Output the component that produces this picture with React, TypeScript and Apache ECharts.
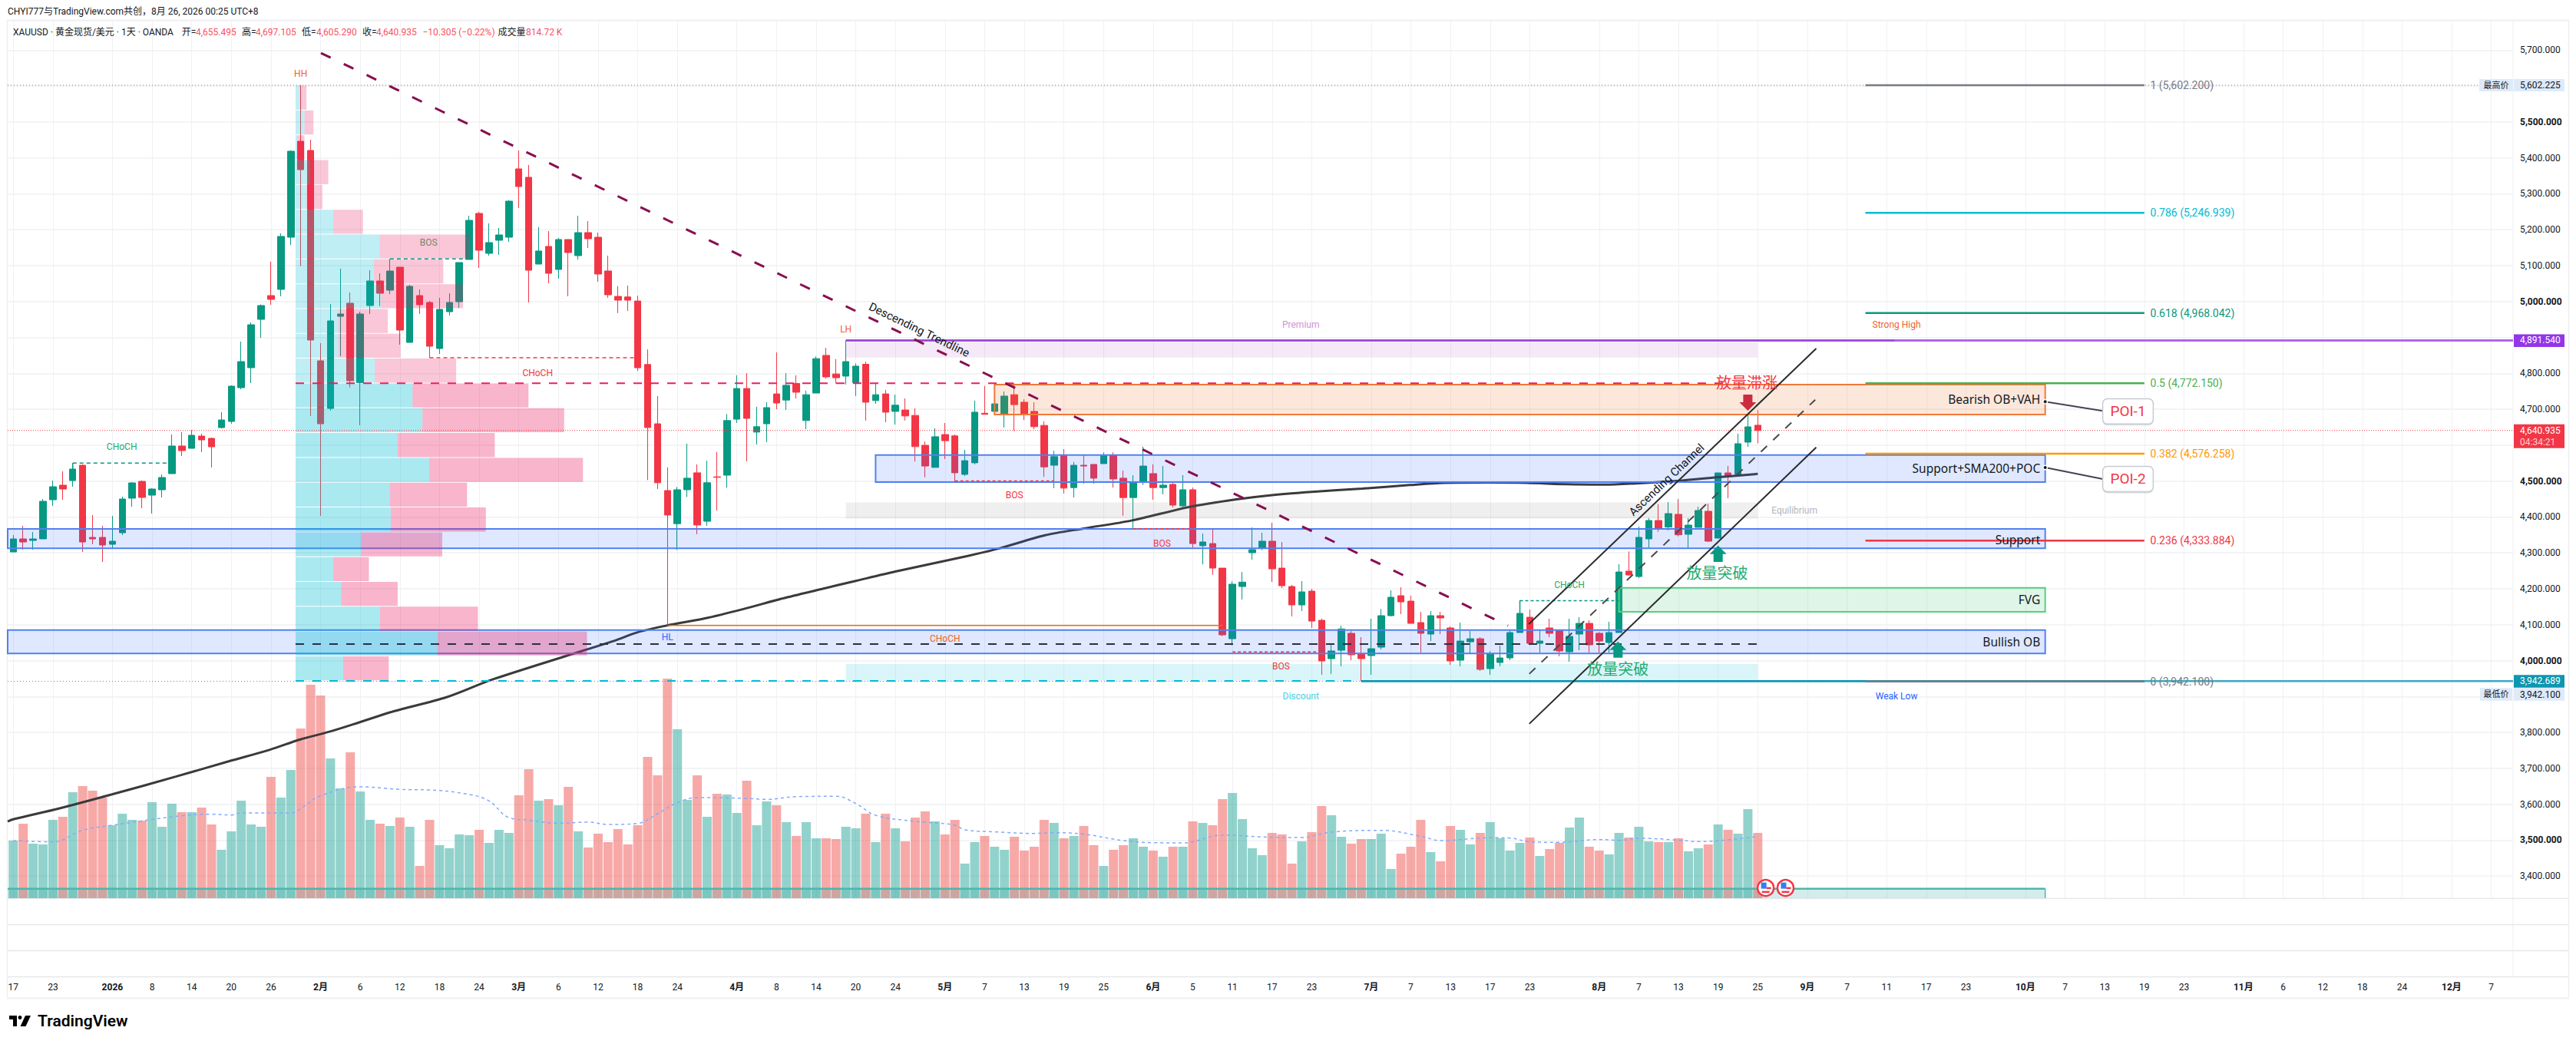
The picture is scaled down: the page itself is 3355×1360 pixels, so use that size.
import React, { useEffect, useRef } from "react";
import * as echarts from "echarts";

// ---------- DATA ----------
// candle rows: open, close, low, high
const candleRows: number[][] = [
[4302.5,4338.9,4302.5,4349.6],[4338.9,4330.3,4308.9,4375.2],[4334.6,4338.9,4308.9,4358.1],[4338.9,4443.6,4338.9,4450],
[4447.9,4484.2,4430.8,4501.3],[4488.5,4477.8,4447.9,4527],[4501.3,4533.4,4484.2,4549.8],[4544,4330.3,4302.5,4546.2],
[4343.1,4338.9,4323.9,4405.1],[4343.1,4321.8,4274.7,4375.2],[4323.9,4332.4,4311.1,4403],[4356,4450,4349.6,4456.4],
[4452.2,4494.9,4428.6,4497],[4499.2,4454.3,4424.4,4501.3],[4460.7,4477.8,4409.4,4480],[4475.7,4509.9,4454.3,4518.4],
[4520.6,4597.5,4520.6,4629.6],[4597.5,4584.7,4569.7,4636],[4591.1,4627.5,4591.1,4642.4],[4625.3,4614.6,4580.4,4631.7],
[4618.9,4595.4,4537.7,4621],[4648.8,4670.2,4646.7,4691.6],[4665.9,4764.3,4659.5,4766.4],[4760,4832.7,4755.7,4888.3],
[4815.6,4935.3,4772.9,4941.7],[4950.3,4988.8,4899,4991.6],[5016.5,5005.9,4990.9,5110.6],[5033.7,5181.2,5014.4,5189.7],
[5179,5418.5,5157.6,5420.6],[5446.2,5367.1,5098.5,5602.3],[5420.6,4892.6,4680.9,5450.5],[4834.9,4659.5,4403,4884],
[4702.3,4946,4696,4993],[4958.8,4965.2,4847.7,5091.4],[4995.2,4779.3,4760.7,5025.1],[4774.3,4965.2,4655.3,4971.6],
[4988.8,5057.2,4965.2,5087.1],[5057.2,5023,4986.6,5078.5],[5031.5,5084.9,5020.8,5118.4],[5095.6,4920.3,4879.7,5095.6],
[4886.1,5042.2,4886.1,5046.5],[5016.5,4990.9,4965.2,5033.7],[4997.3,4875.4,4843.4,5001.6],[4869,4978.1,4854.1,5010.1],
[4971.6,4997.3,4961,5023],[4999.4,5108.5,4982.3,5108.5],[5117,5226,5117,5238.9],[5245.3,5142.7,5093.5,5249.6],
[5134.1,5164.1,5127.7,5217.5],[5170.5,5185.4,5129.8,5204.7],[5179,5279.5,5166.2,5281.6],[5369.3,5320.1,5260.3,5420.6],
[5345.8,5087.1,4997.3,5380],[5104.2,5140.6,5104.2,5206.8],[5153.4,5078.5,5050.7,5196.1],[5089.2,5172.6,5063.6,5176.9],
[5172.6,5136.3,5014.4,5172.6],[5127.7,5191.8,5117,5238.9],[5191.8,5174.7,5149.1,5223.9],[5179,5076.4,5055,5191.8],
[5085,5018.7,5010.1,5127.7],[5014.2,5003.7,4967.7,5042.7],[5012.7,5003.7,4973.7,5044.2],[5001.4,4815.5,4806.5,5016.4],
[4824.5,4649,4502.8,4866.5],[4659.5,4495.3,4478,4736.7],[4473.6,4405.3,4098,4538],[4381.4,4475.8,4307.9,4483.3],
[4475.8,4508,4455.6,4604],[4523,4377.6,4352.1,4546.3],[4388,4495.3,4375.3,4556.8],[4511.8,4510.3,4418.1,4580.8],
[4516.3,4668.5,4481.8,4686.5],[4672.3,4757.7,4661.8,4794.5],[4757.7,4674.5,4554.5,4800.5],[4636.3,4651.3,4601.8,4706.8],
[4659.5,4704.5,4608.5,4719.5],[4742.7,4717.3,4700,4858.2],[4725.5,4766.7,4697.8,4800.5],[4772,4747.3,4730,4794.5],
[4668.5,4740.5,4644.5,4751.8],[4745,4841,4745,4847],[4850,4790,4785.5,4871],[4798.2,4787.7,4772,4839.5],
[4792.2,4832.7,4769,4891.5],[4774.2,4820,4736.7,4827.5],[4825.2,4719.5,4668.5,4832.7],[4724,4740.5,4715,4770.5],
[4742.7,4691.8,4664,4754],[4694,4711.3,4657.3,4740.5],[4697.8,4681.3,4668.5,4730],[4682.8,4595.8,4554.5,4702.3],
[4599.5,4541.8,4510.3,4610],[4538,4623.5,4538,4646.8],[4629.5,4612.3,4561.3,4661.8],[4625.8,4523,4499,4629.5],
[4518.5,4556.8,4514,4586.8],[4550.8,4691.8,4546.3,4724],[4688.8,4685.8,4685.8,4764.5],[4694,4715,4685.8,4724],
[4686.5,4736.7,4649,4749.5],[4740.5,4712.8,4639.3,4772.7],[4719.5,4687.3,4670,4727.7],[4694,4651.3,4644.5,4719.5],
[4655,4539.5,4511.8,4666.3],[4544,4568,4480.3,4584.5],[4570.3,4480.3,4465.3,4589],[4481.8,4544,4454,4553],
[4544,4541.8,4493,4571.8],[4546.3,4508,4493,4546.3],[4548.5,4570.3,4548.5,4580],[4571.8,4505.8,4481.8,4580],
[4508,4454,4403.1,4529],[4454,4497.6,4367.1,4516.3],[4497.6,4541.8,4489.3,4595.8],[4520.8,4481.8,4448.1,4546.3],
[4481.8,4488.6,4463,4541.8],[4490.8,4433,4426.3,4494.6],[4430.8,4475.8,4426.3,4516.3],[4475.8,4325.9,4313.9,4481.8],
[4319.9,4330.4,4268.1,4353.6],[4325.9,4257.6,4238.9,4364.8],[4257.6,4071.7,4067.9,4257.6],[4061,4212.8,4042.5,4220.6],
[4206.3,4218.5,4170,4246.9],[4300.4,4309,4281.2,4371],[4313.2,4332.5,4307.5,4356],[4332.5,4255.5,4219,4383.8],
[4257.6,4208.5,4202,4330.3],[4206.3,4155,4123,4210.6],[4155,4191.4,4138,4221.3],[4193.5,4110.1,4090.9,4200],
[4112.3,3999,3960.5,4116.5],[4005.4,4026.8,3962.6,4043.9],[4028.9,4088.1,3984,4097.3],[4076,4016.1,4001.1,4083],
[4018.9,4005.4,3942.1,4065.2],[4014,4033.2,3960.5,4116.5],[4037.4,4125.1,4031,4143.6],[4125.1,4176.4,4123,4195.6],
[4180.7,4163.6,4129.4,4204.2],[4165.7,4103.7,4103.7,4180.7],[4105.9,4076,4022.5,4135.8],[4073.8,4125.1,4054.5,4138],
[4125.1,4118.7,4073.8,4135.8],[4090.9,3999,3988.3,4095.2],[4001.1,4054.5,3984,4105.8],[4052.4,4060.9,4018.2,4082.3],
[4060.9,3975.5,3971.2,4065.2],[3977.6,4018.9,3960.5,4026.1],[3994.7,4007.5,3984,4041.7],[4007.5,4078.1,4001.1,4086.6],
[4078.1,4131.5,4078.1,4167.9],[4120.8,4048.1,4043.9,4142.2],[4048.1,4054.5,4022.5,4084.5],[4090.9,4076,4065.2,4116.5],
[4083,4026.8,4011.8,4086.6],[4024.6,4067.4,3996.8,4116.5],[4073.8,4103.7,4028.9,4120.8],[4103.7,4043.9,4022.5,4112.3],
[4076,4054.5,4022.5,4079.5],[4050.3,4078.1,4022.5,4108],[4078.1,4246.9,4078.1,4268.3],[4249.1,4238.4,4236.3,4304],
[4234.1,4343.2,4229.9,4373.1],[4338.9,4390.2,4314.7,4396.6],[4390.2,4368.8,4358.8,4435.8],[4371.7,4409.4,4362.4,4441.5],
[4407.3,4350.3,4346,4450],[4351.7,4377.4,4311.1,4396.6],[4371,4418,4371,4428.7],[4415.8,4332.5,4330.3,4437.2],
[4341,4522.7,4341,4522.7],[4522.7,4514.2,4452.2,4542],[4518.5,4604,4512,4631.8],[4608.3,4651,4595.4,4685.2],
[4655.5,4640.9,4605.3,4697.1],
];

// volume in thousands
const volumes: number[] = [
718.9,929.7,680.5,671,977.7,1016,1322.7,1399.4,1341.9,1255.6,910.6,1054.4,977.7,968.1,1198.1,891.4,1179,1073.5,1073.5,1131,
920.2,603.9,833.9,1217.3,920.2,891.4,1514.4,1255.6,1600.7,2118.3,2664.6,2530.4,1744.5,1370.7,1821.2,1332.3,977.7,929.7,901,1006.4,
891.4,402.6,977.7,661.4,623,795.6,786,853.1,690.1,853.1,814.7,1284.4,1610.3,1217.3,1236.5,1159.8,1389.8,833.9,632.6,805.1,
699.7,862.7,671,910.6,1763.6,1533.6,2741.3,2108.7,1226.9,1533.6,1016,1303.6,1294,1063.9,1466.5,910.6,1207.7,1159.8,948.9,776.4,
948.9,747.6,747.6,738,891.4,872.2,1054.4,699.7,1054.4,872.2,709.3,1006.4,1083.1,958.5,795.6,977.7,431.3,699.7,776.4,642.2,
603.9,766.8,594.3,642.2,977.7,939.3,747.6,776.4,901,661.4,402.6,603.9,661.4,747.6,642.2,594.3,517.6,642.2,642.2,958.5,
939.3,910.6,1236.5,1313.1,987.3,623,536.8,814.7,795.6,431.3,709.3,824.3,1150.2,1035.2,766.8,680.5,738,738,805.1,364.2,
555.9,642.2,977.7,575.1,460.1,901,853.1,671,814.7,948.9,747.6,594.3,690.1,757.2,527.2,613.4,690.1,881.8,1006.4,642.2,
594.3,546.3,814.7,757.2,891.4,709.3,699.7,699.7,747.6,584.7,623,671,920.2,853.1,805.1,1111.9,814.72,
];

// volume moving average read at sampled bars: [bar, value]
const volumeMa: number[][] = [
[0,719],[4,703],[7,847],[10,911],[13,965],[17,1029],[20,1048],[22,1038],[23,1064],[28,1064],[29,1118],[31,1278],[35,1390],[39,1358],[42,1351],[46,1294],
[48,1214],[50,1006],[52,974],[55,936],[58,949],[60,920],[63,933],[65,1054],[67,1192],[69,1256],[74,1246],[76,1233],[79,1268],[83,1272],[85,1182],[87,1035],
[91,958],[92,949],[95,911],[96,853],[99,828],[103,808],[105,818],[108,799],[112,719],[115,693],[118,690],[122,786],[127,760],[130,757],[133,824],[138,847],
[142,773],[144,719],[149,754],[151,751],[153,703],[156,697],[160,732],[162,722],[164,748],[168,725],[170,706],[173,728],[176,770],
];

// SMA200 read at sampled bars: [bar, price]
const sma200: number[][] = [
[-0.565,3552],[0,3558],[4.6,3588],[9.9,3627],[16.4,3677],[21.8,3720],[25.9,3752],[28.9,3780],[31.9,3802],[34.8,3827],[38.4,3859],[43.7,3898],[48.4,3948],
[60.6,4055],[63,4079],[66,4098],[69.7,4117],[73.6,4143],[77.6,4173],[81.5,4199],[85,4222],[89,4248],[96.2,4291],[99.4,4312],[104.1,4349],[108,4368],[112.8,4390],[118.7,4428],
[123.4,4449],[127,4461],[131,4470],[136.1,4479],[140.9,4489],[144.4,4495],[148.8,4496],[152.7,4495],[156.7,4491],[160.6,4490],[163.4,4493],[168.1,4501],[172.1,4511],[176,4520],
];

// time axis: bar number of each tick and its label
const timeTickBars: number[] = [0,4,10,14,18,22,26,31,35,39,43,47,51,55,59,63,67,73,77,81,85,89,94,98,102,106,110,115,119,123,127,131,137,141,145,149,153,160,164,168,172,176,181,185,189,193,197,203,207,211,215,219,225,229,233,237,241,246,250];
const timeTickLabels: string[] = ["17","23","2026","8","14","20","26","2月","6","12","18","24","3月","6","12","18","24","4月","8","14","20","24","5月","7","13","19","25","6月","5","11","17","23","7月","7","13","17","23","8月","7","13","19","25","9月","7","11","17","23","10月","7","13","19","23","11月","6","12","18","24","12月","7"];

const priceGridValues: number[] = [5700,5600,5500,5400,5300,5200,5100,5000,4900,4800,4700,4600,4500,4400,4300,4200,4100,4000,3900,3800,3700,3600,3500,3400];
const priceLabelValues: number[] = [5700,5500,5400,5300,5200,5100,5000,4800,4700,4500,4400,4300,4200,4100,4000,3800,3700,3600,3500,3400];
const boldPriceValues: number[] = [5500,5000,4500,4000,3500];

// price zones: x from, x to, price top, price bottom
const zoneSupportLow = [-0.565,205,4366.7,4312.6];
const zoneBullishOb = [-0.565,205,4085,4020];
const zoneSupportPoc = [87,205,4572.6,4497];
const zoneBearishOb = [99,205,4768.6,4685.2];
const zoneFvg = [162,205,4202.7,4136];
const zonePremium = [84,176,4887,4844];
const zoneEquilibrium = [84,176,4440.6,4395.6];
const zoneDiscount = [84,176,3990.7,3944];
const zoneEventBand = [-0.565,205,3364.8,3338.5];

// volume profile: row span and up / down width in bars
const profileStartBar = 28.48;
const profileTopPrice = 5602.2;
const profileRowStep = 69.1;
const profileUp = [.5,.9,.2,1.5,1.1,3.8,8.5,7.9,8.6,4.3,4.3,8,11.8,12.8,10.3,13.5,9.5,9.6,6.6,3.8,4.6,8.5,14.3,4.8];
const profileDown = [.6,.9,.7,1.8,1.6,3,9,7,8.3,5,6.3,8.2,11.7,14.3,9.8,15.5,7.8,9.6,8.2,3.6,5.7,9.9,15.1,4.6];

// drawn lines: x1, price1, x2, price2
const lineHigh = [-0.565,5602.2,248.8,5602.2];
const lineLow = [-0.565,3942.1,252.2,3942.1];
const lineLast = [-0.565,4640.9,252.2,4640.9];
const lineTrend = [31.04,5692,150.8,4097];
const lineChannelUp = [152.9,4101.6,181.9,4869];
const lineChannelMid = [152.95,3963,181.8,4726.5];
const lineChannelDown = [152.95,3824,181.9,4594];
const lineVah = [28.48,4772.5,172.6,4772.5];
const lineBullMid = [28.48,4046,175.9,4046];
const lineDiscount = [28.48,3943.5,135,3943.5];
const lineWeakLow = [136,3942.7,252.2,3942.7];
const lineWeakLowFib = [136,3942.7,215,3942.7];
const linePurple = [84,4891.5,252.2,4891.5];
const linePurpleShort = [84,4891.5,189.8,4891.5];
const lineChochG1 = [6,4549.8,16,4549.8];
const lineChochG1Tick = [6,4549.8,6,4533];
const lineBosG = [38,5118.4,46,5118.4];
const lineChochR = [42,4843.4,63,4843.4];
const lineBosR1 = [95,4500.5,105,4500.5];
const lineBosR2 = [113,4367,119,4367];
const lineBosR3 = [123,4024,132,4024];
const lineChochO = [66,4098,122,4098];
const lineChochG2 = [152,4167,162,4167];
const lineChochG2Tick = [152,4167,152,4131];
const linePoi1 = [205,4720.9,210.8,4695.3];
const linePoi2 = [205,4537.7,210.8,4505.6];
const lineBandTop = [-0.565,3364.8,205,3364.8];
const lineBandRight = [205,3364.8,205,3338.5];

// Fibonacci levels
const fibLevels = [1,0.786,0.618,0.5,0.382,0.236,0];
const fibPrices = [5602.2,5246.939,4968.042,4772.15,4576.258,4333.884,3942.1];
const fibLabels = ["1 (5,602.200)","0.786 (5,246.939)","0.618 (4,968.042)","0.5 (4,772.150)","0.382 (4,576.258)","0.236 (4,333.884)","0 (3,942.100)"];
const fibFromBar = 186.86;
const fibToBar = 215;
const fibLabelBar = 215.6;

// annotations: bar, price, text, kind
const annotations: [number,number,string,string][] = [
[29,5635,"HH","orange"],[10.95,4596,"CHoCH","green"],[41.9,5164.7,"BOS","olive"],[52.9,4801,"CHoCH","red"],
[84,4923,"LH","orange"],[66,4066,"HL","blue"],[94,4060,"CHoCH","orange"],[101,4461.6,"BOS","red"],[115.9,4326.5,"BOS","red"],
[127.9,3984.6,"BOS","red"],[157,4211.3,"CHoCH","green"],[129.9,4935,"Premium","lilac"],[129.9,3900.7,"Discount","aqua"],
[179.7,4418,"Equilibrium","gray"],[190,4935,"Strong High","orange"],[190,3900.7,"Weak Low","blue"],
[91.4,4921,"Descending Trendline","descend"],[166.8,4503.5,"Ascending Channel","ascend"],
[174.9,4772,"放量滞涨","cnRed"],[171.9,4243,"放量突破","cnGreen"],[161.9,3976,"放量突破","cnGreen"],
[204.5,4728,"Bearish OB+VAH","zone"],[204.5,4535.6,"Support+SMA200+POC","zone"],[204.5,4337,"Support","zone"],[204.5,4170.7,"FVG","zone"],[204.5,4053,"Bullish OB","zone"],
];

// arrows: bar, tail price, tip price, kind
const arrows: [number,number,number,string][] = [[175,4741,4696,"red"],[172,4275,4320,"green"],[161.9,4008,4053,"green"]];

// callouts: bar from, bar to, price top, price bottom, text, anchor bar, anchor price
const callouts: [number,number,number,number,string,number,number][] = [[210.8,215.9,4729,4659,"POI-1",205,4720.9],[210.8,215.9,4541,4470.6,"POI-2",205,4537.7]];

const eventBars = [176.8,178.8];
const eventPrice = 3367;

// price tags at right: price, text, kind
const priceTags: [number,string,string][] = [[5602.225,"5,602.225","soft"],[4891.54,"4,891.540","purple"],[4640.935,"4,640.935","last"],[3942.689,"3,942.689","teal"]];
const lastCountdown = "04:34:21";
const lowPriceTag = "3,942.100";
const highTagName = "最高价";
const lowTagName = "最低价";

const titleText = "CHYI777与TradingView.com共创，8月 26, 2026 00:25 UTC+8";
const legendPieces: [number,string,boolean][] = [
[17,"XAUUSD · 黄金现货/美元 · 1天 · OANDA",false],[236.7,"开=",false],[255,"4,655.495",true],[315,"高=",false],[333,"4,697.105",true],[393,"低=",false],[412,"4,605.290",true],[472,"收=",false],[490,"4,640.935",true],[550.5,"−10.305 (−0.22%)",true],[648.5,"成交量",false],[685,"814.72 K",true],
];

// ---------- STYLE ----------
const FONT = "Roboto, 'Noto Sans CJK SC', sans-serif";
const UP = "#089981";
const DOWN = "#F23645";
const BLUE_FILL = "rgba(41,98,255,0.15)";
const BLUE_LINE = "#5280EE";

const zoneDraw: [number[],string,string|null,number][] = [
[zonePremium,"rgba(156,39,176,0.10)",null,0],
[zoneEquilibrium,"rgba(120,123,134,0.12)",null,0],
[zoneDiscount,"rgba(0,188,212,0.15)",null,0],
[zoneSupportLow,BLUE_FILL,BLUE_LINE,2],
[zoneBullishOb,BLUE_FILL,BLUE_LINE,2],
[zoneSupportPoc,BLUE_FILL,BLUE_LINE,2],
[zoneBearishOb,"rgba(239,108,30,0.16)","#EF7A3A",2],
[zoneFvg,"rgba(76,200,120,0.18)","#55D07E",2],
[zoneEventBand,"rgba(0,150,136,0.17)",null,0],
];

const lineDraw: [number[],string,number,number[]|null][] = [
[lineHigh,"#787B86",1,[1,3]],
[lineLow,"#787B86",1,[1,3]],
[lineLast,DOWN,1,[1,2]],
[lineVah,"#E91E63",2,[11,11]],
[lineBullMid,"#2A2E45",2,[11,11]],
[lineDiscount,"#00BCD4",2,[11,11]],
[lineWeakLow,"#3AABC1",2.5,null],
[lineWeakLowFib,"#0E97B0",2.5,null],
[linePurple,"#AE66EC",3,null],
[linePurpleShort,"#9C45D8",2,null],
[lineChochG1,"#089981",1.5,[5,4]],
[lineChochG1Tick,"#089981",1.5,null],
[lineBosG,"#089981",1.5,[5,4]],
[lineChochR,DOWN,1.5,[5,4]],
[lineBosR1,DOWN,1.5,[4,3]],
[lineBosR2,DOWN,1.5,[4,3]],
[lineBosR3,DOWN,1.5,[4,3]],
[lineChochO,"#EF6C00",1.5,null],
[lineChochG2,"#089981",1.5,[4,3]],
[lineChochG2Tick,"#089981",1.5,null],
[lineTrend,"#880E4F",3,[14,19]],
[lineChannelUp,"#2B2B2B",2,null],
[lineChannelMid,"#4A4A4A",2,[11,11]],
[lineChannelDown,"#2B2B2B",2,null],
[linePoi1,"#434651",2,null],
[linePoi2,"#434651",2,null],
[lineBandTop,"#4DB6AC",2.5,null],
[lineBandRight,"#4DB6AC",1.5,null],
];

const fibColors = ["#787B86","#00BCD4","#089981","#4CAF50","#FF9800","#F23645","#787B86"];

const labelStyle: Record<string,{fill:string;size:number;align:string;rot?:number;family?:string}> = {
  orange:{fill:"#F0642A",size:12,align:"center"},
  green:{fill:"#22AB6E",size:12,align:"center"},
  olive:{fill:"#6E8A70",size:12,align:"center"},
  red:{fill:"#F23645",size:12,align:"center"},
  blue:{fill:"#2962FF",size:12,align:"center"},
  lilac:{fill:"#CE93D8",size:12,align:"center"},
  aqua:{fill:"#4DD0E1",size:12,align:"center"},
  gray:{fill:"#B2B5BE",size:12,align:"center"},
  descend:{fill:"#131722",size:15,align:"center",rot:-0.45},
  ascend:{fill:"#131722",size:15,align:"center",rot:0.76},
  cnRed:{fill:"#F23645",size:20,align:"center"},
  cnGreen:{fill:"#22AB6E",size:20,align:"center"},
  zone:{fill:"#131722",size:15.5,align:"right",family:"'Noto Sans', Roboto, sans-serif"},
};

const formatPrice = (v:number) => v.toLocaleString("en-US",{minimumFractionDigits:3,maximumFractionDigits:3});
const timeLabelOf = new Map(timeTickBars.map((b,i)=>[String(b),timeTickLabels[i]]));

function zoneItem(params:any, api:any){
  const [z,fill,stroke,lw] = zoneDraw[params.dataIndex];
  const a = api.coord([z[0],z[2]]), b = api.coord([z[1],z[3]]);
  return {type:"rect",shape:{x:a[0],y:a[1],width:b[0]-a[0],height:b[1]-a[1]},style:{fill,stroke:stroke||"none",lineWidth:lw}};
}
function profileItem(params:any, api:any){
  const n = params.dataIndex;
  const top = profileTopPrice-profileRowStep*n, bottom = top-profileRowStep;
  const a = api.coord([profileStartBar,top]);
  const b = api.coord([profileStartBar+profileUp[n],bottom]);
  const c = api.coord([profileStartBar+profileUp[n]+profileDown[n],bottom]);
  const alpha = n<12 ? 0.25 : 0.33;
  return {type:"group",children:[
    {type:"rect",shape:{x:a[0],y:a[1]+0.5,width:b[0]-a[0],height:b[1]-a[1]-1},style:{fill:`rgba(0,188,212,${alpha})`}},
    {type:"rect",shape:{x:b[0],y:a[1]+0.5,width:c[0]-b[0],height:b[1]-a[1]-1},style:{fill:`rgba(233,30,99,${alpha})`}},
  ]};
}
function lineItem(params:any, api:any){
  const [l,color,width,dash] = lineDraw[params.dataIndex];
  const a = api.coord([l[0],l[1]]), b = api.coord([l[2],l[3]]);
  return {type:"line",shape:{x1:a[0],y1:a[1],x2:b[0],y2:b[1]},style:{stroke:color,lineWidth:width,lineDash:dash||undefined,fill:"none"}};
}
function fibItem(params:any, api:any){
  const i = params.dataIndex;
  const a = api.coord([fibFromBar,fibPrices[i]]), b = api.coord([fibToBar,fibPrices[i]]), t = api.coord([fibLabelBar,fibPrices[i]]);
  return {type:"group",children:[
    {type:"line",shape:{x1:a[0],y1:a[1],x2:b[0],y2:b[1]},style:{stroke:fibColors[i],lineWidth:2.5}},
    {type:"text",x:t[0],y:t[1],style:{text:fibLabels[i],fill:fibColors[i],fontSize:14,fontFamily:FONT,align:"left",verticalAlign:"middle"}},
  ]};
}
function textItem(params:any, api:any){
  const [x,p,text,kind] = annotations[params.dataIndex];
  const s = labelStyle[kind];
  const c = api.coord([x,p]);
  return {type:"text",x:c[0],y:c[1],rotation:s.rot||0,style:{text,fill:s.fill,fontSize:s.size,fontFamily:s.family||FONT,align:s.align,verticalAlign:"middle"}};
}
function arrowItem(params:any, api:any){
  const [x,tail,tip,kind] = arrows[params.dataIndex];
  const t = api.coord([x,tail]), h = api.coord([x,tip]);
  const d = h[1]>t[1] ? 1 : -1;
  const neck = h[1]-d*11;
  return {type:"polygon",shape:{points:[[t[0]-6,t[1]],[t[0]+6,t[1]],[t[0]+6,neck],[t[0]+11,neck],[h[0],h[1]],[t[0]-11,neck],[t[0]-6,neck]]},
    style:{fill:kind==="red"?"#CB2D3E":UP}};
}
function calloutItem(params:any, api:any){
  const [x1,x2,top,bottom,text,ax,ap] = callouts[params.dataIndex];
  const a = api.coord([x1,top]), b = api.coord([x2,bottom]), d = api.coord([ax,ap]);
  return {type:"group",children:[
    {type:"circle",shape:{cx:d[0],cy:d[1],r:3.5},style:{fill:"#fff"}},
    {type:"circle",shape:{cx:d[0],cy:d[1],r:2},style:{fill:"#131722"}},
    {type:"rect",shape:{x:a[0],y:a[1]+2,width:b[0]-a[0],height:b[1]-a[1],r:6},style:{fill:"rgba(120,123,134,0.25)"}},
    {type:"rect",shape:{x:a[0],y:a[1],width:b[0]-a[0],height:b[1]-a[1],r:6},style:{fill:"#fff",stroke:"#C9CBD1",lineWidth:1.5}},
    {type:"text",x:(a[0]+b[0])/2,y:(a[1]+b[1])/2,style:{text,fill:DOWN,fontSize:19,fontFamily:FONT,align:"center",verticalAlign:"middle"}},
  ]};
}
function eventItem(params:any, api:any){
  const c = api.coord([eventBars[params.dataIndex],eventPrice]);
  const x=c[0], y=c[1];
  return {type:"group",children:[
    {type:"circle",shape:{cx:x,cy:y,r:10.5},style:{fill:"#fff",stroke:DOWN,lineWidth:2.5}},
    {type:"rect",shape:{x:x-6,y:y-7,width:7,height:8},style:{fill:"#2F80ED"}},
    {type:"rect",shape:{x:x+1,y:y-1,width:6,height:2.5},style:{fill:DOWN}},
    {type:"rect",shape:{x:x-5,y:y+4,width:10,height:2.5},style:{fill:DOWN}},
  ]};
}
function tagItem(params:any, api:any){
  const [p,text,kind] = priceTags[params.dataIndex];
  const y = api.coord([0,p])[1];
  const X=3274, W=66;
  const txt = (t:string,fill:string,yy:number,x=3282)=>({type:"text",x,y:yy,style:{text:t,fill,fontSize:12,fontFamily:FONT,align:"left",verticalAlign:"middle"}});
  if(kind==="soft"){
    return {type:"group",children:[
      {type:"rect",shape:{x:3229,y:y-8,width:44,height:16},style:{fill:"#DEEAFA"}},
      {type:"rect",shape:{x:X,y:y-8,width:W,height:16},style:{fill:"#DEEAFA"}},
      {type:"text",x:3251,y,style:{text:highTagName,fill:"#131722",fontSize:11,fontFamily:FONT,align:"center",verticalAlign:"middle"}},
      txt(text,"#131722",y),
    ]};
  }
  if(kind==="last"){
    return {type:"group",children:[
      {type:"rect",shape:{x:X,y:y-8,width:W,height:31},style:{fill:DOWN}},
      txt(text,"#fff",y),
      txt(lastCountdown,"#FBD0D4",y+15),
    ]};
  }
  const bg = kind==="purple" ? "#9336E8" : "#0E96AF";
  const kids:any[] = [{type:"rect",shape:{x:X,y:y-8,width:W,height:16.5},style:{fill:bg}},txt(text,"#fff",y)];
  if(kind==="teal"){
    kids.push({type:"rect",shape:{x:3230,y:y+9,width:42,height:16.5},style:{fill:"#DEEAFA"}});
    kids.push({type:"rect",shape:{x:X,y:y+9,width:W,height:16.5},style:{fill:"#DEEAFA"}});
    kids.push({type:"text",x:3251,y:y+17.5,style:{text:lowTagName,fill:"#131722",fontSize:11,fontFamily:FONT,align:"center",verticalAlign:"middle"}});
    kids.push(txt(lowPriceTag,"#131722",y+17.5));
  }
  return {type:"group",children:kids};
}

const custom = (name:string,data:any[],renderItem:any,z:number) => ({
  type:"custom",name,coordinateSystem:"cartesian2d",xAxisIndex:0,yAxisIndex:0,z,silent:true,clip:false,data,renderItem,
});
const idx = (a:any[]) => a.map((_,i)=>[i,i]);

const hLine = (x1:number,y:number,x2:number,c="#EDEEF0",w=1.5)=>({type:"line",shape:{x1,y1:y,x2,y2:y},style:{stroke:c,lineWidth:w},silent:true,z:0});
const vLine = (x:number,y1:number,y2:number,c="#EDEEF0",w=1.5)=>({type:"line",shape:{x1:x,y1,x2:x,y2},style:{stroke:c,lineWidth:w},silent:true,z:0});
const pageText = (x:number,y:number,text:string,fill:string,size=12,weight:any="normal")=>({type:"text",x,y,silent:true,z:20,style:{text,fill,fontSize:size,fontWeight:weight,fontFamily:FONT,align:"left",verticalAlign:"middle"}});

function buildOption(){
  const candleData = candleRows.map((r,i)=>[i,r[0],r[1],r[2],r[3]]);
  const volumeData = volumes.map((v,i)=>({value:[i,v],itemStyle:{color:candleRows[i][1]>=candleRows[i][0]?"rgba(38,166,154,0.5)":"rgba(239,83,80,0.5)"}}));
  return {
    animation:false,
    backgroundColor:"#fff",
    textStyle:{fontFamily:FONT},
    grid:{left:10,top:26,width:3263,height:1144,containLabel:false},
    xAxis:{
      type:"value",min:-0.565,max:252.2,
      axisLine:{show:false},
      axisTick:{show:false,customValues:timeTickBars},
      splitLine:{show:true,lineStyle:{color:"#F0F1F3",width:1}},
      axisLabel:{
        customValues:timeTickBars,margin:110,color:"#131722",fontSize:12,fontFamily:FONT,hideOverlap:false,
        formatter:(v:number)=>{
          const t=timeLabelOf.get(String(v))||"";
          return (t.includes("月")||t==="2026")?`{b|${t}}`:t;
        },
        rich:{b:{fontWeight:"bold",fontSize:12,color:"#131722",fontFamily:FONT}},
      },
    },
    yAxis:[
      {
        type:"value",position:"right",min:3338.5,max:5784,scale:true,
        axisLine:{show:false},
        axisTick:{show:false,customValues:priceGridValues},
        splitLine:{show:true,lineStyle:{color:"#EFF0F2",width:1.5}},
        axisLabel:{
          customValues:priceLabelValues,margin:9,color:"#131722",fontSize:12,fontFamily:FONT,
          formatter:(v:number)=>boldPriceValues.includes(v)?`{b|${formatPrice(v)}}`:formatPrice(v),
          rich:{b:{fontWeight:"bold",fontSize:12,color:"#131722",fontFamily:FONT}},
        },
      },
      {type:"value",show:false,min:0,max:10965,splitLine:{show:false}},
    ],
    series:[
      {type:"bar",name:"成交量",xAxisIndex:0,yAxisIndex:1,barWidth:12,z:1,silent:true,data:volumeData},
      {type:"line",name:"Volume MA",xAxisIndex:0,yAxisIndex:1,z:2,silent:true,smooth:0.4,showSymbol:false,data:volumeMa,lineStyle:{color:"#82AAFA",width:1.5,type:[4,4]}},
      {type:"candlestick",name:"XAUUSD",xAxisIndex:0,yAxisIndex:0,z:3,silent:true,barWidth:9,data:candleData,
        itemStyle:{color:UP,color0:DOWN,borderColor:UP,borderColor0:DOWN,borderWidth:1}},
      {type:"line",name:"SMA200",xAxisIndex:0,yAxisIndex:0,z:4,silent:true,smooth:0.3,showSymbol:false,data:sma200,lineStyle:{color:"#3A3A3A",width:3}},
      custom("zones",idx(zoneDraw),zoneItem,5),
      custom("profile",idx(profileUp),profileItem,6),
      custom("lines",idx(lineDraw),lineItem,7),
      custom("fib",idx(fibPrices),fibItem,7),
      custom("arrows",idx(arrows),arrowItem,8),
      custom("callouts",idx(callouts),calloutItem,8),
      custom("events",idx(eventBars),eventItem,9),
      custom("labels",idx(annotations),textItem,10),
      custom("tags",idx(priceTags),tagItem,11),
    ],
    graphic:{elements:[
      hLine(9,26.5,3346,"#EEEFF1",2),
      vLine(9.5,26,1300),
      vLine(3345.5,26,1300),
      vLine(3273,26,1272,"#EEEFF1",1),
      hLine(10,1170.5,3345,"#E6E7EA",1.5),
      hLine(10,1204.5,3345,"#E6E7EA",1.5),
      hLine(10,1238.5,3345,"#E6E7EA",1.5),
      hLine(10,1272.5,3345,"#E6E7EA",1.5),
      hLine(9,1300.5,3346,"#EEEFF1",2),
      pageText(10,14.5,titleText,"#131722",12),
      ...legendPieces.map(([x,t,red])=>pageText(x,41.5,t,red?"#F7525F":"#131722",12)),
      {type:"rect",shape:{x:12,y:1323,width:10,height:5},style:{fill:"#000"},silent:true},
      {type:"rect",shape:{x:17,y:1323,width:5,height:14},style:{fill:"#000"},silent:true},
      {type:"circle",shape:{cx:26,cy:1325.5,r:2.5},style:{fill:"#000"},silent:true},
      {type:"polygon",shape:{points:[[33,1323],[40,1323],[33.5,1337],[26.5,1337]]},style:{fill:"#000"},silent:true},
      pageText(49,1330,"TradingView","#000",21,600),
    ]},
  };
}

export default function App(){
  const ref = useRef<HTMLDivElement>(null);
  useEffect(()=>{
    document.body.style.margin="0";
    const chart = echarts.init(ref.current!,undefined,{renderer:"svg",width:3355,height:1360});
    chart.setOption(buildOption() as any);
    return ()=>chart.dispose();
  },[]);
  return <div ref={ref} style={{position:"absolute",left:0,top:0,width:3355,height:1360,background:"#fff"}}/>;
}
